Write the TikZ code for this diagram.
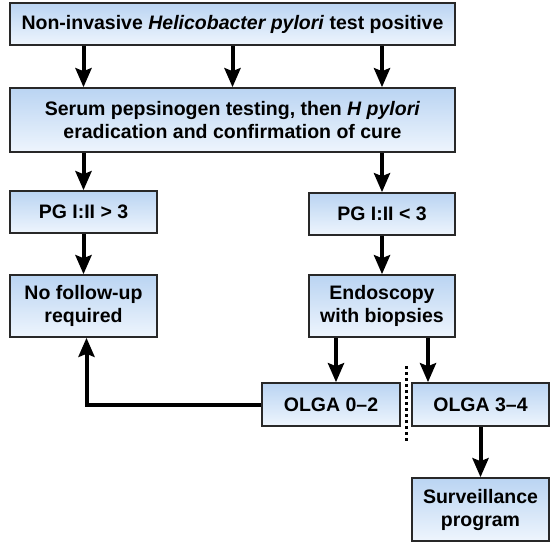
\documentclass[tikz,border=0pt]{standalone}
\usepackage{fontspec}
\setmainfont{Liberation Sans}
\usetikzlibrary{arrows.meta,calc}
\definecolor{boxtop}{RGB}{186,212,242}
\definecolor{boxbot}{RGB}{238,245,253}
\definecolor{boxline}{RGB}{40,40,40}
\begin{document}
\begin{tikzpicture}[x=1pt,y=-1pt,
  box/.style={draw=boxline, line width=1.6pt, top color=boxtop, bottom color=boxbot,
    inner sep=0pt, align=center, font=\fontsize{19.5}{23}\selectfont\bfseries},
  arr/.style={line width=4pt, -{Stealth[inset=3pt,width=16pt,length=19pt]}, black}]
\useasboundingbox (0,0) rectangle (556,547);
\node[box, minimum width=445pt, minimum height=42pt] (top) at (232.5,24) {Non-invasive \textit{Helicobacter pylori} test positive};
\node[box, minimum width=445pt, minimum height=64pt] (ser) at (232.5,120) {Serum pepsinogen testing, then \textit{H pylori}\\eradication and confirmation of cure};
\node[box, minimum width=147pt, minimum height=42pt] (pga) at (83.5,212) {PG I:II > 3};
\node[box, minimum width=146pt, minimum height=42pt] (pgb) at (382,214) {PG I:II < 3};
\node[box, minimum width=147pt, minimum height=62pt] (nof) at (83.5,306) {No follow-up\\required};
\node[box, minimum width=146pt, minimum height=62pt] (endo) at (382,306) {Endoscopy\\with biopsies};
\node[box, minimum width=138pt, minimum height=43pt] (olgaa) at (331,404.5) {OLGA 0–2};
\node[box, minimum width=137pt, minimum height=43pt] (olgab) at (480.5,404.5) {OLGA 3–4};
\node[box, minimum width=137pt, minimum height=63pt] (surv) at (480.5,509.5) {Surveillance\\program};
\coordinate (dtop) at (406,366);
\coordinate (dbot) at (406,442);
\draw[arr] (top.south -| pga.north) -- (ser.north -| pga.north);
\draw[arr] (top.south) -- (ser.north);
\draw[arr] (top.south -| pgb.north) -- (ser.north -| pgb.north);
\draw[arr] (ser.south -| pga.north) -- (pga.north);
\draw[arr] (ser.south -| pgb.north) -- (pgb.north);
\draw[arr] (pga.south) -- (nof.north);
\draw[arr] (pgb.south) -- (endo.north);
\draw[arr] ($(endo.south)+(-46,0)$) -- ($(olgaa.north)+(5,0)$);
\draw[arr] ($(endo.south)+(46,0)$) -- ($(olgab.north)+(-52.5,0)$);
\draw[arr] (olgab.south) -- (surv.north);
\draw[arr] (olgaa.west) -| ($(nof.south)+(3,0)$);
\draw[line width=3pt, dash pattern=on 3pt off 3pt] (dtop) -- (dbot);
\end{tikzpicture}
\end{document}
